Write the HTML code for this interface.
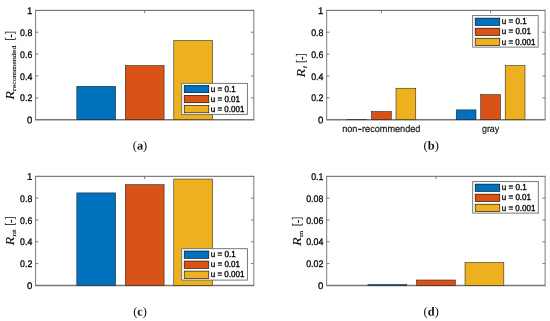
<!DOCTYPE html>
<html><head><meta charset="utf-8"><title>Figure</title>
<style>
html,body{margin:0;padding:0;background:#fff;}
svg{display:block}
.t{font-family:"Liberation Sans",sans-serif;font-size:9.6px;fill:#000;stroke:#000;stroke-width:0.28px}
.lt{font-family:"Liberation Sans",sans-serif;font-size:8.7px;fill:#000;stroke:#000;stroke-width:0.34px}
.yl{font-family:"Liberation Serif",serif;font-size:12.7px;fill:#111;stroke:#111;stroke-width:0.1px}
.sub{font-family:"Liberation Serif",serif;font-size:7px;fill:#111;stroke:#111;stroke-width:0.14px}
.br{font-family:"Liberation Serif",serif;font-size:13.2px;fill:#111;stroke:#111;stroke-width:0.2px}
.cap{font-family:"Liberation Serif",serif;font-size:12.4px;fill:#111}
.xl{font-family:"Liberation Sans",sans-serif;font-size:9.6px;fill:#111;stroke:#111;stroke-width:0.16px}
</style></head><body>
<svg width="550" height="321" viewBox="0 0 550 321">
<rect width="550" height="321" fill="#fff"/>
<path d="M35.60 10.35V119.70M253.80 10.35V119.70" fill="none" stroke="#7a7a7a" stroke-width="1"/>
<path d="M35.15 10.35H254.25" fill="none" stroke="#606060" stroke-width="1"/>
<path d="M35.15 119.70H254.25" fill="none" stroke="#767676" stroke-width="1.4"/>
<text class="t" transform="translate(32.30,123.25) rotate(0.03)" text-anchor="end">0</text>
<line x1="35.60" x2="38.40" y1="97.83" y2="97.83" stroke="#5a5a5a" stroke-width="0.8"/>
<line x1="253.80" x2="251.00" y1="97.83" y2="97.83" stroke="#5a5a5a" stroke-width="0.8"/>
<text class="t" transform="translate(32.30,101.38) rotate(0.03)" text-anchor="end" textLength="12.2" lengthAdjust="spacingAndGlyphs">0.2</text>
<line x1="35.60" x2="38.40" y1="75.96" y2="75.96" stroke="#5a5a5a" stroke-width="0.8"/>
<line x1="253.80" x2="251.00" y1="75.96" y2="75.96" stroke="#5a5a5a" stroke-width="0.8"/>
<text class="t" transform="translate(32.30,79.51) rotate(0.03)" text-anchor="end" textLength="12.2" lengthAdjust="spacingAndGlyphs">0.4</text>
<line x1="35.60" x2="38.40" y1="54.09" y2="54.09" stroke="#5a5a5a" stroke-width="0.8"/>
<line x1="253.80" x2="251.00" y1="54.09" y2="54.09" stroke="#5a5a5a" stroke-width="0.8"/>
<text class="t" transform="translate(32.30,57.64) rotate(0.03)" text-anchor="end" textLength="12.2" lengthAdjust="spacingAndGlyphs">0.6</text>
<line x1="35.60" x2="38.40" y1="32.22" y2="32.22" stroke="#5a5a5a" stroke-width="0.8"/>
<line x1="253.80" x2="251.00" y1="32.22" y2="32.22" stroke="#5a5a5a" stroke-width="0.8"/>
<text class="t" transform="translate(32.30,35.77) rotate(0.03)" text-anchor="end" textLength="12.2" lengthAdjust="spacingAndGlyphs">0.8</text>
<text class="t" transform="translate(32.30,13.90) rotate(0.03)" text-anchor="end">1</text>
<line x1="144.70" x2="144.70" y1="10.35" y2="13.15" stroke="#5a5a5a" stroke-width="0.8"/>
<line x1="144.70" x2="144.70" y1="119.70" y2="116.90" stroke="#5a5a5a" stroke-width="0.8"/>
<rect x="76.82" y="86.24" width="38.79" height="33.46" fill="#0072BD" stroke="#111" stroke-width="0.5"/>
<rect x="125.30" y="65.57" width="38.79" height="54.13" fill="#D95319" stroke="#111" stroke-width="0.5"/>
<rect x="173.79" y="40.42" width="38.79" height="79.28" fill="#EDB120" stroke="#111" stroke-width="0.5"/>
<rect x="181.70" y="83.35" width="65.70" height="31.05" fill="#fff" stroke="#6a6a6a" stroke-width="0.9"/>
<rect x="184.20" y="85.35" width="24.6" height="7.35" fill="#0072BD" stroke="#000" stroke-width="0.6"/>
<text class="lt" transform="translate(210.80,91.65) rotate(0.03)" textLength="24.9" lengthAdjust="spacingAndGlyphs">u = 0.1</text>
<rect x="184.20" y="95.40" width="24.6" height="7.35" fill="#D95319" stroke="#000" stroke-width="0.6"/>
<text class="lt" transform="translate(210.80,101.70) rotate(0.03)" textLength="29.2" lengthAdjust="spacingAndGlyphs">u = 0.01</text>
<rect x="184.20" y="105.45" width="24.6" height="7.35" fill="#EDB120" stroke="#000" stroke-width="0.6"/>
<text class="lt" transform="translate(210.80,111.75) rotate(0.03)" textLength="33.6" lengthAdjust="spacingAndGlyphs">u = 0.001</text>
<g transform="translate(14.00,98.78) rotate(-90)"><text class="yl" transform="translate(-0.8,0) scale(1.08,1)" font-style="italic">R</text><text class="sub" x="7.9" y="1.9" textLength="45.3" lengthAdjust="spacingAndGlyphs">recommended</text><text class="br" transform="translate(58.20,-0.1) scale(0.72,1)">[-]</text></g>
<text class="cap" transform="translate(140.00,149.50) rotate(0.03)" text-anchor="middle">(<tspan font-weight="bold">a</tspan>)</text>
<path d="M326.70 10.35V119.70M545.10 10.35V119.70" fill="none" stroke="#7a7a7a" stroke-width="1"/>
<path d="M326.25 10.35H545.55" fill="none" stroke="#606060" stroke-width="1"/>
<path d="M326.25 119.70H545.55" fill="none" stroke="#767676" stroke-width="1.4"/>
<text class="t" transform="translate(323.40,123.25) rotate(0.03)" text-anchor="end">0</text>
<line x1="326.70" x2="329.50" y1="97.83" y2="97.83" stroke="#5a5a5a" stroke-width="0.8"/>
<line x1="545.10" x2="542.30" y1="97.83" y2="97.83" stroke="#5a5a5a" stroke-width="0.8"/>
<text class="t" transform="translate(323.40,101.38) rotate(0.03)" text-anchor="end" textLength="12.2" lengthAdjust="spacingAndGlyphs">0.2</text>
<line x1="326.70" x2="329.50" y1="75.96" y2="75.96" stroke="#5a5a5a" stroke-width="0.8"/>
<line x1="545.10" x2="542.30" y1="75.96" y2="75.96" stroke="#5a5a5a" stroke-width="0.8"/>
<text class="t" transform="translate(323.40,79.51) rotate(0.03)" text-anchor="end" textLength="12.2" lengthAdjust="spacingAndGlyphs">0.4</text>
<line x1="326.70" x2="329.50" y1="54.09" y2="54.09" stroke="#5a5a5a" stroke-width="0.8"/>
<line x1="545.10" x2="542.30" y1="54.09" y2="54.09" stroke="#5a5a5a" stroke-width="0.8"/>
<text class="t" transform="translate(323.40,57.64) rotate(0.03)" text-anchor="end" textLength="12.2" lengthAdjust="spacingAndGlyphs">0.6</text>
<line x1="326.70" x2="329.50" y1="32.22" y2="32.22" stroke="#5a5a5a" stroke-width="0.8"/>
<line x1="545.10" x2="542.30" y1="32.22" y2="32.22" stroke="#5a5a5a" stroke-width="0.8"/>
<text class="t" transform="translate(323.40,35.77) rotate(0.03)" text-anchor="end" textLength="12.2" lengthAdjust="spacingAndGlyphs">0.8</text>
<text class="t" transform="translate(323.40,13.90) rotate(0.03)" text-anchor="end">1</text>
<line x1="381.40" x2="381.40" y1="10.35" y2="13.15" stroke="#5a5a5a" stroke-width="0.8"/>
<line x1="381.40" x2="381.40" y1="119.70" y2="116.90" stroke="#5a5a5a" stroke-width="0.8"/>
<line x1="490.60" x2="490.60" y1="10.35" y2="13.15" stroke="#5a5a5a" stroke-width="0.8"/>
<line x1="490.60" x2="490.60" y1="119.70" y2="116.90" stroke="#5a5a5a" stroke-width="0.8"/>
<rect x="347.00" y="119.48" width="19.80" height="0.22" fill="#0072BD" stroke="#111" stroke-width="0.5"/>
<rect x="371.50" y="111.50" width="19.80" height="8.20" fill="#D95319" stroke="#111" stroke-width="0.5"/>
<rect x="396.00" y="88.21" width="19.80" height="31.49" fill="#EDB120" stroke="#111" stroke-width="0.5"/>
<rect x="456.20" y="109.86" width="19.80" height="9.84" fill="#0072BD" stroke="#111" stroke-width="0.5"/>
<rect x="480.70" y="94.55" width="19.80" height="25.15" fill="#D95319" stroke="#111" stroke-width="0.5"/>
<rect x="505.20" y="65.57" width="19.80" height="54.13" fill="#EDB120" stroke="#111" stroke-width="0.5"/>
<text class="xl" transform="translate(381.30,132.10) rotate(0.03)" text-anchor="middle" textLength="78.3" lengthAdjust="spacingAndGlyphs">non<tspan font-size="14.5px" dy="1.25" stroke-width="0">-</tspan><tspan dy="-1.25">recommended</tspan></text>
<text class="xl" transform="translate(490.60,132.10) rotate(0.03)" text-anchor="middle" textLength="17.3" lengthAdjust="spacingAndGlyphs">gray</text>
<rect x="472.70" y="15.60" width="65.50" height="31.50" fill="#fff" stroke="#6a6a6a" stroke-width="0.9"/>
<rect x="475.20" y="18.10" width="24.6" height="7.35" fill="#0072BD" stroke="#000" stroke-width="0.6"/>
<text class="lt" transform="translate(501.80,24.40) rotate(0.03)" textLength="24.9" lengthAdjust="spacingAndGlyphs">u = 0.1</text>
<rect x="475.20" y="28.15" width="24.6" height="7.35" fill="#D95319" stroke="#000" stroke-width="0.6"/>
<text class="lt" transform="translate(501.80,34.45) rotate(0.03)" textLength="29.2" lengthAdjust="spacingAndGlyphs">u = 0.01</text>
<rect x="475.20" y="38.20" width="24.6" height="7.35" fill="#EDB120" stroke="#000" stroke-width="0.6"/>
<text class="lt" transform="translate(501.80,44.50) rotate(0.03)" textLength="33.6" lengthAdjust="spacingAndGlyphs">u = 0.001</text>
<g transform="translate(304.90,76.50) rotate(-90)"><text class="yl" transform="translate(-0.8,0) scale(1.08,1)" font-style="italic">R</text><text class="sub" x="7.9" y="1.9" font-style="italic" textLength="2.6" lengthAdjust="spacingAndGlyphs">i</text><text class="br" transform="translate(13.60,-0.1) scale(0.72,1)">[-]</text></g>
<text class="cap" transform="translate(431.20,149.50) rotate(0.03)" text-anchor="middle">(<tspan font-weight="bold">b</tspan>)</text>
<path d="M35.60 176.30V285.45M253.80 176.30V285.45" fill="none" stroke="#7a7a7a" stroke-width="1"/>
<path d="M35.15 176.30H254.25" fill="none" stroke="#606060" stroke-width="1"/>
<path d="M35.15 285.45H254.25" fill="none" stroke="#767676" stroke-width="1.4"/>
<text class="t" transform="translate(32.30,289.00) rotate(0.03)" text-anchor="end">0</text>
<line x1="35.60" x2="38.40" y1="263.62" y2="263.62" stroke="#5a5a5a" stroke-width="0.8"/>
<line x1="253.80" x2="251.00" y1="263.62" y2="263.62" stroke="#5a5a5a" stroke-width="0.8"/>
<text class="t" transform="translate(32.30,267.17) rotate(0.03)" text-anchor="end" textLength="12.2" lengthAdjust="spacingAndGlyphs">0.2</text>
<line x1="35.60" x2="38.40" y1="241.79" y2="241.79" stroke="#5a5a5a" stroke-width="0.8"/>
<line x1="253.80" x2="251.00" y1="241.79" y2="241.79" stroke="#5a5a5a" stroke-width="0.8"/>
<text class="t" transform="translate(32.30,245.34) rotate(0.03)" text-anchor="end" textLength="12.2" lengthAdjust="spacingAndGlyphs">0.4</text>
<line x1="35.60" x2="38.40" y1="219.96" y2="219.96" stroke="#5a5a5a" stroke-width="0.8"/>
<line x1="253.80" x2="251.00" y1="219.96" y2="219.96" stroke="#5a5a5a" stroke-width="0.8"/>
<text class="t" transform="translate(32.30,223.51) rotate(0.03)" text-anchor="end" textLength="12.2" lengthAdjust="spacingAndGlyphs">0.6</text>
<line x1="35.60" x2="38.40" y1="198.13" y2="198.13" stroke="#5a5a5a" stroke-width="0.8"/>
<line x1="253.80" x2="251.00" y1="198.13" y2="198.13" stroke="#5a5a5a" stroke-width="0.8"/>
<text class="t" transform="translate(32.30,201.68) rotate(0.03)" text-anchor="end" textLength="12.2" lengthAdjust="spacingAndGlyphs">0.8</text>
<text class="t" transform="translate(32.30,179.85) rotate(0.03)" text-anchor="end">1</text>
<line x1="144.70" x2="144.70" y1="176.30" y2="179.10" stroke="#5a5a5a" stroke-width="0.8"/>
<line x1="144.70" x2="144.70" y1="285.45" y2="282.65" stroke="#5a5a5a" stroke-width="0.8"/>
<rect x="76.82" y="192.89" width="38.79" height="92.56" fill="#0072BD" stroke="#111" stroke-width="0.5"/>
<rect x="125.30" y="184.60" width="38.79" height="100.85" fill="#D95319" stroke="#111" stroke-width="0.5"/>
<rect x="173.79" y="179.03" width="38.79" height="106.42" fill="#EDB120" stroke="#111" stroke-width="0.5"/>
<rect x="181.70" y="248.70" width="65.70" height="31.40" fill="#fff" stroke="#6a6a6a" stroke-width="0.9"/>
<rect x="184.20" y="251.00" width="24.6" height="7.35" fill="#0072BD" stroke="#000" stroke-width="0.6"/>
<text class="lt" transform="translate(210.80,257.30) rotate(0.03)" textLength="24.9" lengthAdjust="spacingAndGlyphs">u = 0.1</text>
<rect x="184.20" y="261.05" width="24.6" height="7.35" fill="#D95319" stroke="#000" stroke-width="0.6"/>
<text class="lt" transform="translate(210.80,267.35) rotate(0.03)" textLength="29.2" lengthAdjust="spacingAndGlyphs">u = 0.01</text>
<rect x="184.20" y="271.10" width="24.6" height="7.35" fill="#EDB120" stroke="#000" stroke-width="0.6"/>
<text class="lt" transform="translate(210.80,277.40) rotate(0.03)" textLength="33.6" lengthAdjust="spacingAndGlyphs">u = 0.001</text>
<g transform="translate(14.20,244.50) rotate(-90)"><text class="yl" transform="translate(-0.8,0) scale(1.08,1)" font-style="italic">R</text><text class="sub" x="7.9" y="1.9" textLength="7.0" lengthAdjust="spacingAndGlyphs">nt</text><text class="br" transform="translate(18.70,-0.1) scale(0.72,1)">[-]</text></g>
<text class="cap" transform="translate(140.10,315.40) rotate(0.03)" text-anchor="middle">(<tspan font-weight="bold">c</tspan>)</text>
<path d="M326.70 176.30V285.45M545.10 176.30V285.45" fill="none" stroke="#7a7a7a" stroke-width="1"/>
<path d="M326.25 176.30H545.55" fill="none" stroke="#606060" stroke-width="1"/>
<path d="M326.25 285.45H545.55" fill="none" stroke="#767676" stroke-width="1.4"/>
<text class="t" transform="translate(323.40,289.00) rotate(0.03)" text-anchor="end">0</text>
<line x1="326.70" x2="329.50" y1="263.62" y2="263.62" stroke="#5a5a5a" stroke-width="0.8"/>
<line x1="545.10" x2="542.30" y1="263.62" y2="263.62" stroke="#5a5a5a" stroke-width="0.8"/>
<text class="t" transform="translate(323.40,267.17) rotate(0.03)" text-anchor="end" textLength="17.2" lengthAdjust="spacingAndGlyphs">0.02</text>
<line x1="326.70" x2="329.50" y1="241.79" y2="241.79" stroke="#5a5a5a" stroke-width="0.8"/>
<line x1="545.10" x2="542.30" y1="241.79" y2="241.79" stroke="#5a5a5a" stroke-width="0.8"/>
<text class="t" transform="translate(323.40,245.34) rotate(0.03)" text-anchor="end" textLength="17.2" lengthAdjust="spacingAndGlyphs">0.04</text>
<line x1="326.70" x2="329.50" y1="219.96" y2="219.96" stroke="#5a5a5a" stroke-width="0.8"/>
<line x1="545.10" x2="542.30" y1="219.96" y2="219.96" stroke="#5a5a5a" stroke-width="0.8"/>
<text class="t" transform="translate(323.40,223.51) rotate(0.03)" text-anchor="end" textLength="17.2" lengthAdjust="spacingAndGlyphs">0.06</text>
<line x1="326.70" x2="329.50" y1="198.13" y2="198.13" stroke="#5a5a5a" stroke-width="0.8"/>
<line x1="545.10" x2="542.30" y1="198.13" y2="198.13" stroke="#5a5a5a" stroke-width="0.8"/>
<text class="t" transform="translate(323.40,201.68) rotate(0.03)" text-anchor="end" textLength="17.2" lengthAdjust="spacingAndGlyphs">0.08</text>
<text class="t" transform="translate(323.40,179.85) rotate(0.03)" text-anchor="end" textLength="12.2" lengthAdjust="spacingAndGlyphs">0.1</text>
<line x1="435.90" x2="435.90" y1="176.30" y2="179.10" stroke="#5a5a5a" stroke-width="0.8"/>
<line x1="435.90" x2="435.90" y1="285.45" y2="282.65" stroke="#5a5a5a" stroke-width="0.8"/>
<rect x="367.95" y="284.58" width="38.83" height="0.87" fill="#0072BD" stroke="#111" stroke-width="0.5"/>
<rect x="416.49" y="279.99" width="38.83" height="5.46" fill="#D95319" stroke="#111" stroke-width="0.5"/>
<rect x="465.02" y="262.53" width="38.83" height="22.92" fill="#EDB120" stroke="#111" stroke-width="0.5"/>
<rect x="472.70" y="181.60" width="65.60" height="31.50" fill="#fff" stroke="#6a6a6a" stroke-width="0.9"/>
<rect x="475.20" y="184.10" width="24.6" height="7.35" fill="#0072BD" stroke="#000" stroke-width="0.6"/>
<text class="lt" transform="translate(501.80,190.40) rotate(0.03)" textLength="24.9" lengthAdjust="spacingAndGlyphs">u = 0.1</text>
<rect x="475.20" y="194.15" width="24.6" height="7.35" fill="#D95319" stroke="#000" stroke-width="0.6"/>
<text class="lt" transform="translate(501.80,200.45) rotate(0.03)" textLength="29.2" lengthAdjust="spacingAndGlyphs">u = 0.01</text>
<rect x="475.20" y="204.20" width="24.6" height="7.35" fill="#EDB120" stroke="#000" stroke-width="0.6"/>
<text class="lt" transform="translate(501.80,210.50) rotate(0.03)" textLength="33.6" lengthAdjust="spacingAndGlyphs">u = 0.001</text>
<g transform="translate(300.60,244.83) rotate(-90)"><text class="yl" transform="translate(-0.8,0) scale(1.08,1)" font-style="italic">R</text><text class="sub" x="7.9" y="1.9" textLength="6.4" lengthAdjust="spacingAndGlyphs">m</text><text class="br" transform="translate(18.60,-0.1) scale(0.72,1)">[-]</text></g>
<text class="cap" transform="translate(431.20,315.40) rotate(0.03)" text-anchor="middle">(<tspan font-weight="bold">d</tspan>)</text>
</svg>
</body></html>
